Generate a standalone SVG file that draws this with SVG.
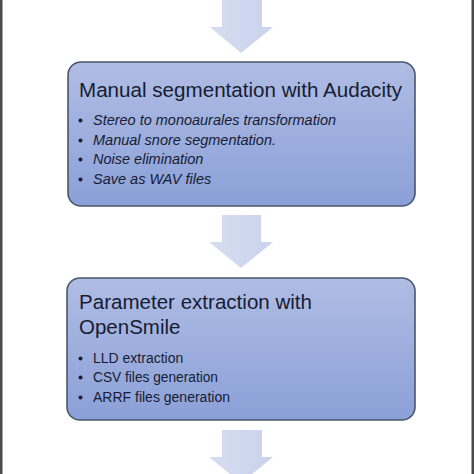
<svg xmlns="http://www.w3.org/2000/svg" width="474" height="474" viewBox="0 0 474 474">
  <defs>
    <linearGradient id="boxg" x1="0" y1="0" x2="0" y2="1">
      <stop offset="0" stop-color="#b0bde4"/>
      <stop offset="1" stop-color="#8ba0d8"/>
    </linearGradient>
    <linearGradient id="arrg" x1="0" y1="0" x2="1" y2="0">
      <stop offset="0" stop-color="#d6ddf1"/>
      <stop offset="0.5" stop-color="#d0d8ef"/>
      <stop offset="1" stop-color="#c9d2ec"/>
    </linearGradient>
  </defs>
  <style>
    .box { fill: url(#boxg); stroke: #4a566c; stroke-width: 1.6; }
    .arrow { fill: url(#arrg); stroke: none; }
    .title { font-family: "Liberation Sans", Arial, sans-serif; font-size: 20.5px; fill: #161c33; }
    .item { font-family: "Liberation Sans", Arial, sans-serif; font-size: 14px; fill: #161c33; }
    .ital { font-style: italic; font-size: 14.5px; }
    .dot { fill: #161c33; }
  </style>
  <rect x="0" y="0" width="474" height="474" fill="#ffffff"/>
  <rect x="0" y="0" width="2.5" height="474" fill="#4a4a4a"/>
  <rect x="471.5" y="0" width="2.5" height="474" fill="#4a4a4a"/>

  <g id="connectors">
    <polygon class="arrow" points="222,0 262,0 262,27 273,27 241,53 210,27 222,27"/>
    <polygon class="arrow" points="222,215 261,215 261,242 273,242 241,268 209,242 222,242"/>
    <polygon class="arrow" points="222,430 262,430 262,457 273,457 241,483 209,457 222,457"/>
  </g>

  <g id="node-segmentation">
    <rect class="box" x="68" y="62" width="347" height="144" rx="13" ry="13"/>
    <text class="title" x="79" y="97" textLength="323" lengthAdjust="spacingAndGlyphs">Manual segmentation with Audacity</text>
    <circle class="dot" cx="80.5" cy="120.5" r="2"/>
    <text class="item ital" x="93" y="125" textLength="243" lengthAdjust="spacingAndGlyphs">Stereo to monoaurales transformation</text>
    <circle class="dot" cx="80.5" cy="140.5" r="2"/>
    <text class="item ital" x="93" y="145">Manual snore segmentation.</text>
    <circle class="dot" cx="80.5" cy="159.5" r="2"/>
    <text class="item ital" x="93" y="164">Noise elimination</text>
    <circle class="dot" cx="80.5" cy="179.5" r="2"/>
    <text class="item ital" x="93" y="184">Save as WAV files</text>
  </g>

  <g id="node-extraction">
    <rect class="box" x="67" y="278" width="348" height="142" rx="13" ry="13"/>
    <text class="title" x="79" y="309" textLength="233" lengthAdjust="spacingAndGlyphs">Parameter extraction with</text>
    <text class="title" x="79" y="334">OpenSmile</text>
    <circle class="dot" cx="80.5" cy="358.5" r="2"/>
    <text class="item" x="93" y="363">LLD extraction</text>
    <circle class="dot" cx="80.5" cy="377.5" r="2"/>
    <text class="item" x="93" y="382" textLength="125" lengthAdjust="spacingAndGlyphs">CSV files generation</text>
    <circle class="dot" cx="80.5" cy="397.5" r="2"/>
    <text class="item" x="93" y="402">ARRF files generation</text>
  </g>
</svg>
